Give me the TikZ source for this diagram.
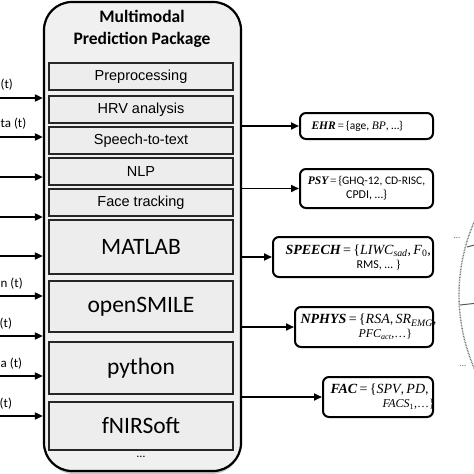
\documentclass[tikz,border=0pt]{standalone}
\usepackage{fontspec}
\setmainfont{Carlito}
\newfontfamily\arialf{Liberation Sans}
\newfontfamily\serifm{Liberation Serif}
\newcommand{\mvar}[1]{{\serifm\itshape #1}}
\newcommand{\mbold}[1]{{\serifm\bfseries\itshape #1}}
\newcommand{\msub}[1]{\textsubscript{\serifm\itshape #1}}
\newcommand{\meq}{{\serifm\,=\,}}
\usetikzlibrary{arrows.meta}
\begin{document}
\begin{tikzpicture}[x=1pt,y=-1pt,
  pkgbox/.style={draw=black, line width=2.2pt, fill=black!6, rounded corners=28pt, minimum width=197pt, minimum height=469pt, inner sep=0pt},
  subbox/.style={draw=black!85, line width=1.6pt, fill=black!7, minimum width=184pt, inner sep=0pt},
  smalltxt/.style={font=\arialf\fontsize{14.5}{16}\selectfont},
  bigtxt/.style={font=\fontsize{23.5}{26}\selectfont},
  arr/.style={line width=1.8pt, -{Triangle[length=8pt,width=7pt]}},
  outbox/.style={draw=black, line width=2pt, rounded corners=6pt, fill=white, inner sep=0pt},
  intxt/.style={font=\fontsize{13}{15}\selectfont, anchor=east},
  inltxt/.style={font=\fontsize{13}{15}\selectfont, anchor=west, inner xsep=0.5pt},
  fml/.style={font=\fontsize{12}{14}\selectfont}
]
\useasboundingbox (0,0) rectangle (474,474);
\clip (0,0) rectangle (474,474);
% shadow
\fill[black!22, rounded corners=28pt] (46,6) rectangle (240,474);
\node[pkgbox] (pkg) at (142.5,236.5) {};
\node[font=\bfseries\fontsize{17.5}{22}\selectfont, align=center] (title) at (142,29) {Multimodal\\Prediction Package};
% inner boxes
\node[subbox, smalltxt, minimum height=27pt] (pre) at (141,76.5) {Preprocessing};
\node[subbox, smalltxt, minimum height=27pt] (hrv) at (141,109.5) {HRV analysis};
\node[subbox, smalltxt, minimum height=27pt] (stt) at (141,140.5) {Speech-to-text};
\node[subbox, smalltxt, minimum height=27pt] (nlp) at (141,171.5) {NLP};
\node[subbox, smalltxt, minimum height=27pt] (face) at (141,202.5) {Face tracking};
\node[subbox, bigtxt, minimum height=54pt] (matlab) at (141,247) {MATLAB};
\node[subbox, bigtxt, minimum height=51pt] (smile) at (141,306.5) {openSMILE};
\node[subbox, bigtxt, minimum height=52pt] (python) at (141,368) {python};
\node[subbox, bigtxt, minimum height=48pt] (fnir) at (141,426) {fNIRSoft};
\node[font=\fontsize{12}{12}\selectfont] (more) at (141,457) {\ldots};
% input arrows
\foreach \y [count=\i] in {98,137,177,217,256,296,336,376,416} {
  \coordinate (in\i) at (0,\y);
  \draw[arr] (in\i) -- (in\i -| pkg.west);
}
\node[inltxt] (l1) at (0,85) {(t)};
\node[inltxt] (l2) at (0,124) {ta (t)};
\node[inltxt] (l6) at (0,284) {n (t)};
\node[intxt] (l7) at (15.5,324) {(t)};
\node[inltxt] (l8) at (0,364) {a (t)};
\node[intxt] (l9) at (15.5,404) {(t)};
% output boxes
\node[outbox, minimum width=133pt, minimum height=26pt] (ehr) at (366.5,126) {};
\node[fml, anchor=west] (ehrt) at (308,126.5) {\fontsize{11.5}{13}\selectfont\mbold{EHR}\meq\{age, \mvar{BP}, \ldots\}};
\node[outbox, minimum width=133pt, minimum height=39pt] (psy) at (366.5,188.5) {};
\node[fml, align=center] (psyt) at (366.5,188.5) {\fontsize{11.5}{15}\selectfont\mbold{PSY}\meq\{GHQ-12, CD-RISC,\\CPDI, \ldots\}};
\node[outbox, minimum width=160pt, minimum height=40pt] (speech) at (353,257) {};
\node[fml, align=left, anchor=west] (speecht) at (282,257) {\fontsize{14}{15}\selectfont\mbold{SPEECH}\meq{\serifm\{}\mvar{LIWC}\msub{sad}{\serifm,}\,\mvar{F}\textsubscript{\serifm 0}{\serifm,}\\\hspace*{71pt}RMS, \ldots\ {\serifm\}}};
\node[outbox, minimum width=138pt, minimum height=40pt] (nphys) at (364,327) {};
\node[fml, align=left, anchor=west] (nphyst) at (297,327) {\fontsize{14}{15}\selectfont\mbold{NPHYS}\meq{\serifm\{}\mvar{RSA},\,\mvar{SR}\msub{EMG}{\serifm,}\\\hspace*{58pt}\mvar{PFC}\msub{act}{\serifm,\ldots\}}};
\node[outbox, minimum width=110pt, minimum height=40pt] (fac) at (378,397) {};
\node[fml, align=left, anchor=west] (fact) at (327,397) {\fontsize{14}{15}\selectfont\mbold{FAC}\meq{\serifm\{}\mvar{SPV},\,\mvar{PD},\\\hspace*{52pt}\mvar{FACS}\textsubscript{\serifm 1}{\serifm,\ldots\}}};
% output arrows
\draw[arr] (pkg.east |- ehr.west) -- (ehr.west);
\draw[arr] (pkg.east |- psy.west) -- (psy.west);
\draw[arr] (pkg.east |- speech.west) -- (speech.west);
\draw[arr] (pkg.east |- nphys.west) -- (nphys.west);
\draw[arr] (pkg.east |- fac.west) -- (fac.west);
% partial dotted arc at right edge
\coordinate (arcc) at (643,295);
\draw[black!55, line width=1.4pt, dash pattern=on 0.8pt off 0.8pt] (arcc) ++(205:184) arc[start angle=205, end angle=155, radius=184];
\coordinate (t1) at (467,247);
\coordinate (t1e) at (478,244);
\coordinate (t2) at (460,305);
\coordinate (t2e) at (478,303);
\draw[black!65, line width=1pt] (t1) -- (t1e);
\draw[black!65, line width=1pt] (t2) -- (t2e);
\node[text=black!60, font=\fontsize{9}{9}\selectfont] (d1) at (457,238) {\ldots};
\node[text=black!60, font=\fontsize{9}{9}\selectfont] (d2) at (463,366) {\ldots};
\end{tikzpicture}
\end{document}
